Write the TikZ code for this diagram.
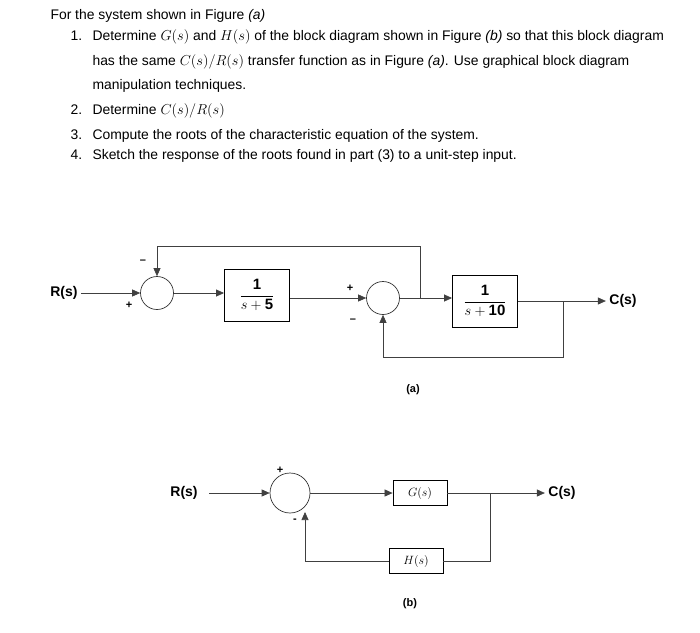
\documentclass[tikz,border=0pt]{standalone}
\usepackage{fontspec}
\setmainfont{Liberation Sans}
\usetikzlibrary{arrows.meta}
\begin{document}
\begin{tikzpicture}[x=1pt,y=-1pt,
  ln/.style={draw=black!75,line width=0.7pt},
  ar/.style={ln,-{Triangle[length=8pt,width=7pt]}},
  blk/.style={draw,line width=0.9pt,minimum width=65pt,minimum height=52pt,inner sep=2pt,font=\fontsize{15}{15}\selectfont},
  blkb/.style={draw,line width=0.8pt,minimum width=54pt,minimum height=25pt,inner sep=1pt,font=\fontsize{13}{13}\selectfont},
  sm/.style={circle,draw=black!80,line width=0.7pt,minimum size=33pt,inner sep=0pt},
  lab/.style={font=\bfseries\fontsize{14}{14}\selectfont},
  sg/.style={font=\bfseries\fontsize{11}{11}\selectfont},
  tx/.style={anchor=base west,font=\fontsize{13.9}{15}\selectfont}]
\useasboundingbox (0,0) rectangle (700,632);
\clip (0,0) rectangle (700,632);
% text
\node[tx] (t0) at (47,19) {For the system shown in Figure \textit{(a)}};
\node[tx] (n1) at (67,40) {1.};
\node[tx] (t1) at (89,40) {Determine $G(s)$ and $H(s)$ of the block diagram shown in Figure \textit{(b)} so that this block diagram};
\node[tx] (t1b) at (89,65) {has the same $C(s)/R(s)$ transfer function as in Figure \textit{(a)}. Use graphical block diagram};
\node[tx] (t1c) at (89,89) {manipulation techniques.};
\node[tx] (n2) at (67,114) {2.};
\node[tx] (t2) at (89,114) {Determine $C(s)/R(s)$};
\node[tx] (n3) at (67,139) {3.};
\node[tx] (t3) at (89,139) {Compute the roots of the characteristic equation of the system.};
\node[tx] (n4) at (67,159) {4.};
\node[tx] (t4) at (89,159) {Sketch the response of the roots found in part (3) to a unit-step input.};
% diagram (a)
\node[lab] (R) at (64,293) {R(s)};
\node[sm] (s1) at (157,293) {};
\node[blk] (b1) at (257,295) {$\displaystyle\frac{\mathbf{1}}{s+\mathbf{5}}$};
\node[sm] (s2) at (383,298) {};
\node[blk] (b2) at (485,301) {$\displaystyle\frac{\mathbf{1}}{s+\mathbf{10}}$};
\node[lab] (C) at (623,301) {C(s)};
\coordinate (j1) at (420,298);
\coordinate (j2) at (563,301);
\draw[ar] (R.east) -- (s1.west);
\draw[ar] (s1.east) -- (s1.east -| b1.west);
\draw[ar] (b1.east |- s2.west) -- (s2.west);
\draw[ar] (s2.east) -- (s2.east -| b2.west);
\draw[ar] (b2.east) -- (C.west);
\draw[ar] (j1) -- (420,246) -- (157,246) -- (s1.north);
\draw[ar] (j2) -- (563,357) -- (383,357) -- (s2.south);
\node[sg] (m1) at (143,262) {--};
\node[sg] (p1) at (129,305) {+};
\node[sg] (p2) at (350,288) {+};
\node[sg] (m2) at (353,321) {--};
\node[font=\bfseries\fontsize{11}{11}\selectfont] (la) at (413,390) {(a)};
% diagram (b)
\node[lab] (Rb) at (184,493) {R(s)};
\node[sm,minimum size=40pt] (sb) at (290,493) {};
\node[blkb] (G) at (420,493) {$G(s)$};
\node[blkb] (H) at (416,561) {$H(s)$};
\node[lab] (Cb) at (562,493) {C(s)};
\coordinate (jb) at (490,493);
\draw[ar] ([xshift=8pt]Rb.east) -- (sb.west);
\draw[ar] (sb.east) -- (G.west);
\draw[ar] (G.east) -- (Cb.west);
\draw[ln] (jb) -- (jb |- H.east) -- (H.east);
\draw[ar] (H.west) -- (305,561) -- (305,512);
\node[sg] (pb) at (280,470) {+};
\node[sg] (mb) at (295,521) {-};
\node[font=\bfseries\fontsize{11}{11}\selectfont] (lb) at (410,604) {(b)};
\end{tikzpicture}
\end{document}
